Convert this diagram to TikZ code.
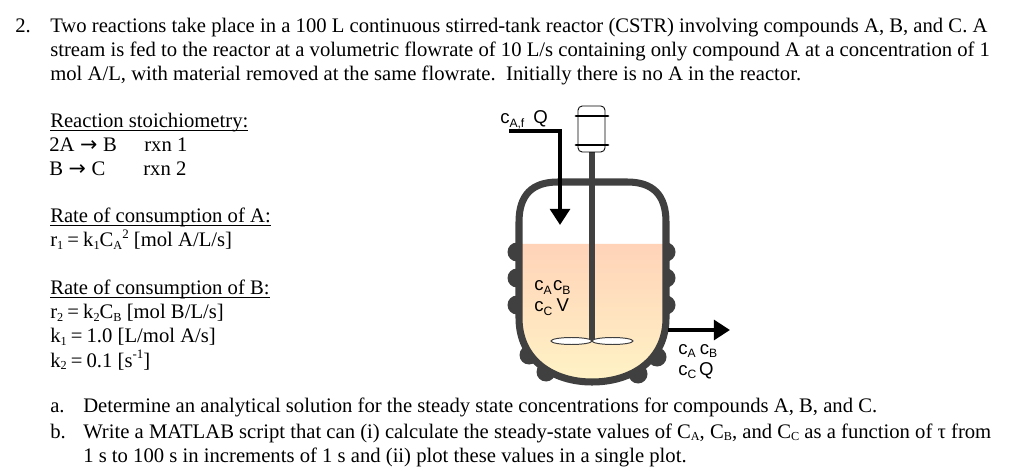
\documentclass[tikz,border=0pt]{standalone}
\usepackage{fontspec}
\setmainfont{Liberation Serif}
\setsansfont{Liberation Sans}
\newfontfamily\arrowfont{DejaVu Sans}
\usetikzlibrary{arrows.meta}
\definecolor{wallgray}{HTML}{404040}
\definecolor{liquidtop}{HTML}{FFD3B8}
\definecolor{liquidbot}{HTML}{FFF3C6}
\newcommand{\hdr}[1]{\underline{\smash{#1}}}
\newcommand{\dn}[1]{\raisebox{-0.12em}{\fontsize{8.7}{10}\selectfont #1}}
\newcommand{\up}[1]{\raisebox{0.42em}{\fontsize{9.2}{10}\selectfont #1}}
\newcommand{\sdn}[1]{\raisebox{-0.2em}{\fontsize{8.6}{10}\selectfont #1}}
\newcommand{\eqs}{\kern0.2em=\kern0.2em}
\newcommand{\rarr}{{\arrowfont\fontsize{14.7}{15}\selectfont →}}
\tikzset{
  txt/.style={anchor=base west,inner sep=0pt,font=\fontsize{14.7}{17}\selectfont},
  lbl/.style={anchor=base west,inner sep=0pt,font=\sffamily\fontsize{13.2}{15}\selectfont},
  wall/.style={draw=wallgray,line width=5pt},
  flow/.style={line width=3.2pt,black,-{Triangle[length=11.5pt,width=14pt]}},
}
\begin{document}
\begin{tikzpicture}[x=0.025cm,y=-0.025cm]
\useasboundingbox (0,0) rectangle (1024,471);

% problem statement
\node[txt] (n2) at (15,33) {2.};
\node[txt] (l1) at (50,33) {Two reactions take place in a 100 L continuous stirred-tank reactor (CSTR) involving compounds A, B, and C. A};
\node[txt] (l2) at (50,57) {stream is fed to the reactor at a volumetric flowrate of 10 L/s containing only compound A at a concentration of 1};
\node[txt] (l3) at (50,81) {mol A/L, with material removed at the same flowrate.\ \ Initially there is no A in the reactor.};

\node[txt] (h1) at (50,128) {\hdr{Reaction stoichiometry:}};
\node[txt] (s1) at (49,152) {2A\kern4pt\rarr\kern4pt B};
\node[txt] (t1) at (144,152) {rxn 1};
\node[txt] (s2) at (49,176) {B\kern4pt\rarr\kern4pt C};
\node[txt] (t2) at (143,176) {rxn 2};
\node[txt] (h2) at (50,223) {\hdr{Rate of consumption of A:}};
\node[txt] (r1) at (50,247) {r\dn{1}\eqs k\dn{1}C\dn{A}\up{2} [mol A/L/s]};
\node[txt] (h3) at (50,295) {\hdr{Rate of consumption of B:}};
\node[txt] (r2) at (50,319) {r\dn{2}\eqs k\dn{2}C\dn{B} [mol B/L/s]};
\node[txt] (k1) at (50,343) {k\dn{1}\eqs 1.0 [L/mol A/s]};
\node[txt] (k2) at (50,367) {k\dn{2}\eqs 0.1 [s\up{-1}]};

\node[txt] (qa) at (50,412) {a.};
\node[txt] (a1) at (83,412) {Determine an analytical solution for the steady state concentrations for compounds A, B, and C.};
\node[txt] (qb) at (50,438) {b.};
\node[txt] (b1) at (83,438) {Write a MATLAB script that can (i) calculate the steady-state values of C\dn{A}, C\dn{B}, and C\dn{C} as a function of τ from};
\node[txt] (b2) at (83,462) {1 s to 100 s in increments of 1 s and (ii) plot these values in a single plot.};

% jacket bumps
\foreach \bx/\by in {517/252,517/278,517/305,666/252,666/278,666/305,529/355,546/372,638/374,657/357} {
  \fill[wallgray] (\bx,\by) circle (9.5);
}

% liquid
\fill[white] (519,222) -- (666,222) -- (666,318) .. controls (666,360) and (632,382) .. (592,382)
  .. controls (553,382) and (519,360) .. (519,318) -- cycle;
\shade[top color=liquidtop,bottom color=liquidbot] (519,244) -- (666,244) -- (666,318)
  .. controls (666,360) and (632,382) .. (592,382) .. controls (553,382) and (519,360) .. (519,318) -- cycle;

% tank wall
\draw[wall] (519,222) .. controls (519,195) and (532,182) .. (558,182) -- (627,182)
  .. controls (653,182) and (666,195) .. (666,222) -- (666,318)
  .. controls (666,360) and (632,382) .. (592,382) .. controls (553,382) and (519,360) .. (519,318) -- cycle;

% motor and shaft
\draw[wallgray,line width=3.8pt] (592,152) -- (592,341);
\draw[black,fill=white,rounded corners=3pt,line width=0.6pt] (578,106) rectangle (605,152);
\draw[black,line width=2pt,line cap=round] (576,116) -- (608,116);
\draw[black,line width=2pt,line cap=round] (576,145) -- (608,145);
\draw[wallgray,fill=white,line width=0.7pt] (571.5,341) ellipse (20.5 and 3.5);
\draw[wallgray,fill=white,line width=0.7pt] (612.5,341) ellipse (20.5 and 3.5);

% streams
\draw[flow] (509,131) -- (560,131) -- (560,225);
\draw[flow] (668,330) -- (730,330);

% labels
\node[lbl] (cf) at (500,124) {c\sdn{A,f}};
\node[lbl] (qf) at (533,124) {Q};
\node[lbl] (ca) at (534,291) {c\sdn{A}\kern1pt c\sdn{B}};
\node[lbl] (cc) at (534,312) {c\sdn{C}\kern3pt V};
\node[lbl] (oa) at (678,354) {c\sdn{A}\kern3pt c\sdn{B}};
\node[lbl] (oc) at (678,375) {c\sdn{C}\kern2pt Q};
\end{tikzpicture}
\end{document}
